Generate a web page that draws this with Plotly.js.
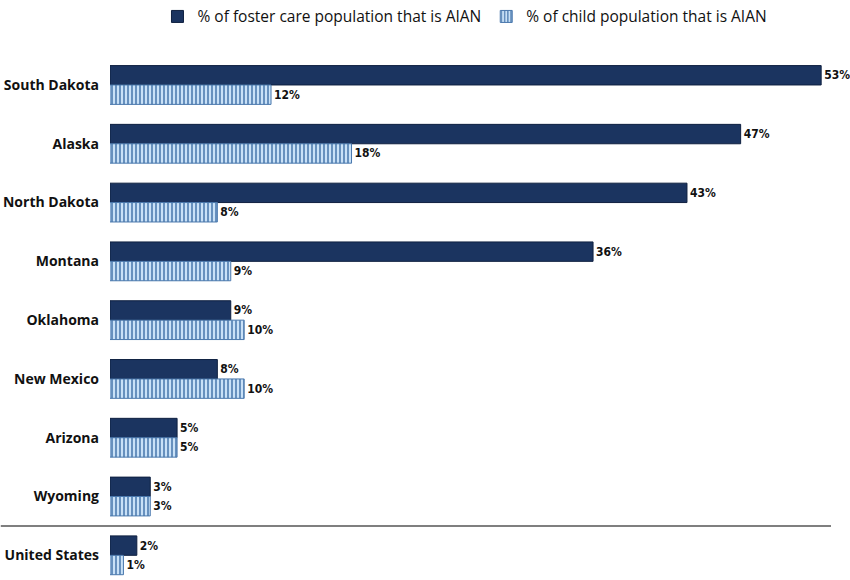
<!DOCTYPE html>
<html>
<head>
<meta charset="utf-8">
<script src="https://cdn.plot.ly/plotly-3.0.1.min.js"></script>
<style>html,body{margin:0;padding:0;background:#fff;}#chart{width:850px;height:580px;}</style>
</head>
<body>
<div id="chart"></div>
<script>
const states = ["South Dakota","Alaska","North Dakota","Montana","Oklahoma","New Mexico","Arizona","Wyoming","United States"];
const fosterPct = [53,47,43,36,9,8,5,3,2];
const childPct = [12,18,8,9,10,10,5,3,1];
const seriesNames = ["% of foster care population that is AIAN","% of child population that is AIAN"];

const labelFont = {family: "DejaVu Sans Condensed, Liberation Sans, sans-serif", size: 12, color: "#111", weight: "bold"};

const traces = [
  {
    type: "bar", orientation: "h", name: seriesNames[0],
    y: states, x: fosterPct,
    text: fosterPct.map(v => v + "%"),
    textposition: "outside", textfont: labelFont, cliponaxis: false,
    marker: {color: "#1b3460", line: {color: "#0f2040", width: 1}},
    hoverinfo: "x+y"
  },
  {
    type: "bar", orientation: "h", name: seriesNames[1],
    y: states, x: childPct,
    text: childPct.map(v => v + "%"),
    textposition: "outside", textfont: labelFont, cliponaxis: false,
    marker: {color: "#bcd8f2", line: {color: "#4a78ad", width: 1},
             pattern: {shape: "|", fgcolor: "#3d6ea6", bgcolor: "#c9e1f7", size: 4, solidity: 0.35}},
    hoverinfo: "x+y"
  }
];

const layout = {
  width: 850, height: 580,
  margin: {l: 110, r: 2, t: 55, b: 0, autoexpand: false},
  paper_bgcolor: "#fff", plot_bgcolor: "#fff",
  barmode: "group", bargap: 0.34, bargroupgap: 0,
  showlegend: true,
  legend: {orientation: "h", x: 0.481, xanchor: "center", y: 1.105, yanchor: "top",
           font: {family: "Open Sans, sans-serif", size: 15.5, color: "#111"},
           itemwidth: 30, tracegroupgap: 0, traceorder: "normal"},
  xaxis: {range: [0, 55], showgrid: false, zeroline: false, showticklabels: false, showline: false, fixedrange: true},
  yaxis: {type: "category", range: [8.42, -0.51], showgrid: false, zeroline: false, showline: false,
          ticks: "", ticklabelstandoff: 10,
          tickfont: {family: "Open Sans, sans-serif", size: 14, color: "#111", weight: "bold"}},
  shapes: [
    {type: "line", xref: "paper", yref: "y", x0: -0.148, x1: 0.977, y0: 7.5, y1: 7.5,
     line: {color: "#555", width: 1.5}}
  ]
};

Plotly.newPlot("chart", traces, layout, {displayModeBar: false, staticPlot: true});
</script>
</body>
</html>
